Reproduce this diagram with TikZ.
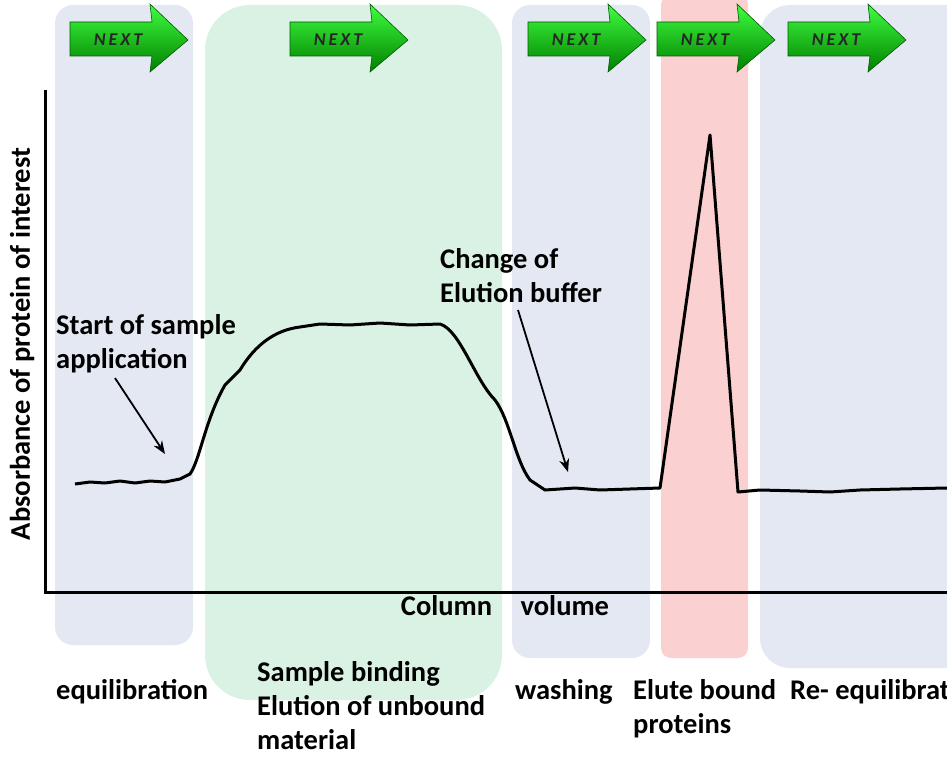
\documentclass[tikz,border=0pt]{standalone}
\usepackage{fontspec}
\setmainfont{Carlito}
\usetikzlibrary{arrows.meta}
\definecolor{pblue}{HTML}{E3E8F3}
\definecolor{pgreen}{HTML}{DAF2E4}
\definecolor{pred}{HTML}{FAD0D0}
\begin{document}
\begin{tikzpicture}[x=1pt,y=-1pt,
  panel/.style={rounded corners=18pt},
  lbl/.style={font=\fontsize{28.5}{34}\selectfont\bfseries,anchor=west,align=left,inner sep=0pt},
  nextarrow/.style={draw=green!35!black,top color=green!75!white,bottom color=green!50!black,line width=0.6pt},
  curve/.style={line width=3pt,line join=round},
  pointer/.style={line width=1.8pt,-{Stealth[length=13pt,width=10pt]}}]
\useasboundingbox (0,0) rectangle (947,778);
\clip (0,0) rectangle (947,778);
% panels
\fill[panel,pblue] (55,5) rectangle (193,645);
\fill[rounded corners=45pt,pgreen] (205,5) rectangle (502,700);
\fill[panel,pblue] (512,5) rectangle (650,658);
\fill[rounded corners=10pt,pred] (661,-5) rectangle (748,658);
\fill[rounded corners=30pt,pblue] (760,5) rectangle (990,668);
% NEXT arrows
\foreach \x/\n in {70/n1,290/n2,528/n3,657/n4,788/n5}{
  \draw[nextarrow] (\x,22) -- (\x+82,22) -- (\x+80,4) -- (\x+118,40) -- (\x+80,72) -- (\x+82,56) -- (\x,56) -- cycle;
  \node[font=\fontsize{18}{20}\selectfont\bfseries\itshape,text=black!85] (\n) at (\x+48,40) {N\,E\,X\,T};
}
% axes
\coordinate (o) at (45,592);
\coordinate (ytop) at (45,90);
\coordinate (xend) at (947,592);
\draw[line width=3pt] (ytop) -- (o) -- (xend);
\node[rotate=90,font=\fontsize{28.5}{30}\selectfont\bfseries] (ylab) at (22,344) {Absorbance of protein of interest};
\node[font=\fontsize{28.5}{30}\selectfont\bfseries] (xlab) at (505,606) {Column\quad volume};
% curve
\draw[curve] (75,484) -- (90,482) -- (105,483) -- (120,481) -- (135,483) -- (150,481) -- (165,482) -- (180,479) -- (190,474)
 .. controls (200,460) and (205,420) .. (225,385) -- (240,370) .. controls (255,345) and (275,330) .. (300,327)
 -- (320,324) -- (350,325) -- (380,323) -- (410,325) -- (440,324) .. controls (460,330) and (475,380) .. (495,400)
 .. controls (510,420) and (515,460) .. (530,480) -- (545,490) -- (560,489) -- (575,488) -- (600,490) -- (630,489) -- (660,488)
 -- (710,135) -- (738,492) -- (760,490) -- (800,491) -- (830,492) -- (860,490) -- (900,489) -- (947,488);
% annotations
\node[lbl] (t1) at (56,344) {Start of sample\\application};
\node[lbl] (t2) at (440,276) {Change of\\Elution buffer};
\coordinate (p1) at (165,454);
\coordinate (p2) at (568,472);
\draw[pointer] (115,378) -- (p1);
\draw[pointer] (518,310) -- (p2);
% bottom labels
\node[lbl] (b1) at (56,692) {equilibration};
\node[lbl] (b2) at (257,706) {Sample binding\\Elution of unbound\\material};
\node[lbl] (b3) at (515,692) {washing};
\node[lbl] (b4) at (633,709) {Elute bound\\proteins};
\node[lbl] (b5) at (790,692) {Re- equilibration};
\end{tikzpicture}
\end{document}
